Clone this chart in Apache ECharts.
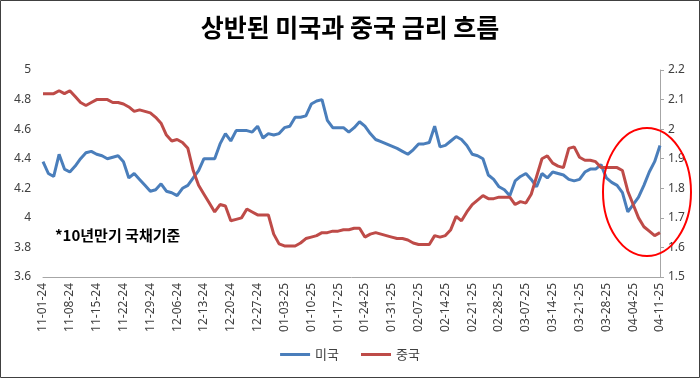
<!DOCTYPE html>
<html>
<head>
<meta charset="utf-8">
<script src="https://cdn.jsdelivr.net/npm/echarts@6.0.0/dist/echarts.min.js"></script>
<style>
  html, body { margin: 0; padding: 0; background: #fff; }
  #chart { width: 700px; height: 378px; }
</style>
</head>
<body>
<div id="chart"></div>
<script>
// 영업일 기준 날짜 (MM-DD-YY)
var dates = [
  '11-01-24','11-04-24','11-05-24','11-06-24','11-07-24','11-08-24','11-11-24','11-12-24','11-13-24','11-14-24',
  '11-15-24','11-18-24','11-19-24','11-20-24','11-21-24','11-22-24','11-25-24','11-26-24','11-27-24','11-28-24',
  '11-29-24','12-02-24','12-03-24','12-04-24','12-05-24','12-06-24','12-09-24','12-10-24','12-11-24','12-12-24',
  '12-13-24','12-16-24','12-17-24','12-18-24','12-19-24','12-20-24','12-23-24','12-24-24','12-25-24','12-26-24',
  '12-27-24','12-30-24','12-31-24','01-01-25','01-02-25','01-03-25','01-06-25','01-07-25','01-08-25','01-09-25',
  '01-10-25','01-13-25','01-14-25','01-15-25','01-16-25','01-17-25','01-20-25','01-21-25','01-22-25','01-23-25',
  '01-24-25','01-27-25','01-28-25','01-29-25','01-30-25','01-31-25','02-03-25','02-04-25','02-05-25','02-06-25',
  '02-07-25','02-10-25','02-11-25','02-12-25','02-13-25','02-14-25','02-17-25','02-18-25','02-19-25','02-20-25',
  '02-21-25','02-24-25','02-25-25','02-26-25','02-27-25','02-28-25','03-03-25','03-04-25','03-05-25','03-06-25',
  '03-07-25','03-10-25','03-11-25','03-12-25','03-13-25','03-14-25','03-17-25','03-18-25','03-19-25','03-20-25',
  '03-21-25','03-24-25','03-25-25','03-26-25','03-27-25','03-28-25','03-31-25','04-01-25','04-02-25','04-03-25',
  '04-04-25','04-07-25','04-08-25','04-09-25','04-10-25','04-11-25'
];

// 미국 10년물 (왼쪽 축)
var usRate = [
  4.38, 4.30, 4.28, 4.43, 4.33, 4.31, 4.35, 4.40, 4.44, 4.45,
  4.43, 4.42, 4.40, 4.41, 4.42, 4.38, 4.27, 4.30, 4.26, 4.22,
  4.18, 4.19, 4.23, 4.18, 4.17, 4.15, 4.20, 4.22, 4.27, 4.32,
  4.40, 4.40, 4.40, 4.50, 4.57, 4.52, 4.59, 4.59, 4.59, 4.58,
  4.62, 4.54, 4.57, 4.56, 4.57, 4.61, 4.62, 4.68, 4.68, 4.69,
  4.77, 4.79, 4.80, 4.66, 4.61, 4.61, 4.61, 4.58, 4.61, 4.65,
  4.62, 4.57, 4.53, 4.515, 4.50, 4.485, 4.47, 4.45, 4.43, 4.46,
  4.50, 4.50, 4.51, 4.62, 4.48, 4.49, 4.52, 4.55, 4.53, 4.49,
  4.43, 4.42, 4.40, 4.29, 4.26, 4.21, 4.19, 4.15, 4.25, 4.28,
  4.30, 4.26, 4.21, 4.30, 4.27, 4.31, 4.30, 4.29, 4.26, 4.25,
  4.26, 4.31, 4.33, 4.33, 4.36, 4.27, 4.24, 4.22, 4.17, 4.04,
  4.09, 4.14, 4.22, 4.31, 4.38, 4.49
];

// 중국 10년물 (오른쪽 축)
var cnRate = [
  2.12, 2.12, 2.12, 2.13, 2.12, 2.13, 2.11, 2.09, 2.08, 2.09,
  2.10, 2.10, 2.10, 2.09, 2.09, 2.085, 2.075, 2.06, 2.065, 2.06,
  2.055, 2.04, 2.02, 1.98, 1.96, 1.965, 1.955, 1.935, 1.86, 1.81,
  1.78, 1.75, 1.72, 1.745, 1.74, 1.69, 1.695, 1.70, 1.73, 1.72,
  1.71, 1.71, 1.71, 1.645, 1.612, 1.605, 1.605, 1.605, 1.615, 1.63,
  1.635, 1.64, 1.65, 1.65, 1.655, 1.655, 1.66, 1.66, 1.665, 1.665,
  1.635, 1.645, 1.65, 1.645, 1.64, 1.635, 1.63, 1.63, 1.625, 1.615,
  1.61, 1.61, 1.61, 1.64, 1.635, 1.64, 1.66, 1.705, 1.69, 1.72,
  1.745, 1.76, 1.775, 1.765, 1.765, 1.77, 1.77, 1.77, 1.745, 1.755,
  1.75, 1.78, 1.84, 1.90, 1.91, 1.885, 1.875, 1.87, 1.935, 1.94,
  1.905, 1.895, 1.895, 1.89, 1.87, 1.87, 1.87, 1.87, 1.86, 1.79,
  1.745, 1.70, 1.67, 1.655, 1.64, 1.65
];

var FONT = "'Noto Sans', 'Noto Sans CJK KR', sans-serif";

var myChart = echarts.init(document.getElementById('chart'));

var option = {
  backgroundColor: '#fff',
  animation: false,
  title: {
    text: '상반된 미국과 중국 금리 흐름',
    left: 'center',
    top: 10,
    textStyle: {
      fontFamily: "'Noto Sans CJK KR', sans-serif",
      fontSize: 25,
      fontWeight: 'bold',
      color: '#000'
    }
  },
  legend: {
    bottom: 12,
    left: 'center',
    icon: 'rect',
    itemWidth: 30,
    itemHeight: 3,
    itemGap: 22,
    textStyle: {
      fontFamily: "'Noto Sans CJK KR', sans-serif",
      fontSize: 13,
      color: '#404040'
    },
    data: ['미국', '중국']
  },
  grid: {
    left: 43,
    right: 40,
    top: 70,
    bottom: 101
  },
  xAxis: {
    type: 'category',
    data: dates,
    boundaryGap: false,
    axisLine: { lineStyle: { color: '#a6a6a6', width: 1 } },
    axisTick: { show: false },
    axisLabel: {
      interval: 4,
      rotate: 90,
      margin: 6,
      fontFamily: FONT,
      fontSize: 12,
      color: '#404040'
    },
    splitLine: { show: false }
  },
  yAxis: [
    {
      type: 'value',
      min: 3.6,
      max: 5,
      interval: 0.2,
      axisLine: { show: false },
      axisTick: { show: false },
      splitLine: { show: false },
      axisLabel: {
        margin: 12,
        fontFamily: FONT,
        fontSize: 12,
        color: '#404040',
        formatter: function (v) { return String(+v.toFixed(1)); }
      }
    },
    {
      type: 'value',
      min: 1.5,
      max: 2.2,
      interval: 0.1,
      position: 'right',
      axisLine: { show: true, lineStyle: { color: '#a6a6a6' } },
      axisTick: { show: true, length: 4, lineStyle: { color: '#a6a6a6' } },
      splitLine: { show: false },
      axisLabel: {
        margin: 8,
        fontFamily: FONT,
        fontSize: 12,
        color: '#404040',
        formatter: function (v) { return String(+v.toFixed(1)); }
      }
    }
  ],
  series: [
    {
      name: '미국',
      type: 'line',
      yAxisIndex: 0,
      data: usRate,
      symbol: 'none',
      lineStyle: { color: '#4a7ebb', width: 3 },
      itemStyle: { color: '#4a7ebb' }
    },
    {
      name: '중국',
      type: 'line',
      yAxisIndex: 1,
      data: cnRate,
      symbol: 'none',
      lineStyle: { color: '#be4b48', width: 3 },
      itemStyle: { color: '#be4b48' }
    }
  ],
  graphic: [
    {
      type: 'rect',
      shape: { x: 0.5, y: 0.5, width: 699, height: 377 },
      style: { fill: 'none', stroke: '#404040', lineWidth: 1 },
      silent: true
    },
    {
      type: 'text',
      left: 55,
      top: 228,
      style: {
        text: '*10년만기 국채기준',
        font: "bold 15px 'Noto Sans CJK KR', sans-serif",
        fill: '#000'
      }
    },
    {
      type: 'ellipse',
      shape: { cx: 647, cy: 192, rx: 44, ry: 64 },
      style: { fill: 'none', stroke: '#ff0000', lineWidth: 2 },
      z: 100,
      silent: true
    }
  ]
};

myChart.setOption(option);
</script>
</body>
</html>
